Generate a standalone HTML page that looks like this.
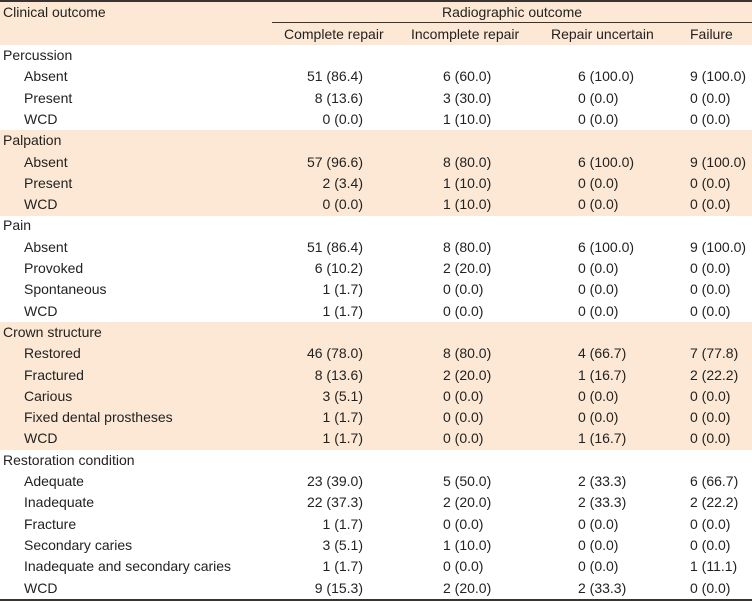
<!DOCTYPE html>
<html><head><style>
body{margin:0;width:752px;height:602px;background:#fff;position:relative;overflow:hidden;font-family:"Liberation Sans",sans-serif;font-size:14px;color:#222}
.b{position:absolute;left:0;width:752px;background:#fce8d4}
.t{position:absolute;white-space:pre;line-height:21px}
.r{text-align:right}
.l{position:absolute;background:#3a3330}
</style></head><body>
<div class="b" style="top:0;height:45px"></div>
<div class="b" style="top:130px;height:86px"></div>
<div class="b" style="top:322px;height:128px"></div>
<div class="l" style="top:0;left:0;width:752px;height:2px"></div>
<div class="l" style="top:22px;left:272px;width:480px;height:1px"></div>
<div class="l" style="top:599px;left:0;width:752px;height:2px"></div>
<div class="t" style="left:3px;top:2px">Clinical outcome</div>
<div class="t" style="left:272px;width:480px;text-align:center;top:2px">Radiographic outcome</div>
<div class="t" style="left:284px;top:24px">Complete repair</div>
<div class="t" style="left:411px;top:24px">Incomplete repair</div>
<div class="t" style="left:551px;top:24px">Repair uncertain</div>
<div class="t" style="left:690px;top:24px">Failure</div>
<div id="rows"></div>
<script>
var d=[["Percussion"],["Absent","51 (86.4)","6 (60.0)","6 (100.0)","9 (100.0)"],["Present","8 (13.6)","3 (30.0)","0 (0.0)","0 (0.0)"],["WCD","0 (0.0)","1 (10.0)","0 (0.0)","0 (0.0)"],
["Palpation"],["Absent","57 (96.6)","8 (80.0)","6 (100.0)","9 (100.0)"],["Present","2 (3.4)","1 (10.0)","0 (0.0)","0 (0.0)"],["WCD","0 (0.0)","1 (10.0)","0 (0.0)","0 (0.0)"],
["Pain"],["Absent","51 (86.4)","8 (80.0)","6 (100.0)","9 (100.0)"],["Provoked","6 (10.2)","2 (20.0)","0 (0.0)","0 (0.0)"],["Spontaneous","1 (1.7)","0 (0.0)","0 (0.0)","0 (0.0)"],["WCD","1 (1.7)","0 (0.0)","0 (0.0)","0 (0.0)"],
["Crown structure"],["Restored","46 (78.0)","8 (80.0)","4 (66.7)","7 (77.8)"],["Fractured","8 (13.6)","2 (20.0)","1 (16.7)","2 (22.2)"],["Carious","3 (5.1)","0 (0.0)","0 (0.0)","0 (0.0)"],["Fixed dental prostheses","1 (1.7)","0 (0.0)","0 (0.0)","0 (0.0)"],["WCD","1 (1.7)","0 (0.0)","1 (16.7)","0 (0.0)"],
["Restoration condition"],["Adequate","23 (39.0)","5 (50.0)","2 (33.3)","6 (66.7)"],["Inadequate","22 (37.3)","2 (20.0)","2 (33.3)","2 (22.2)"],["Fracture","1 (1.7)","0 (0.0)","0 (0.0)","0 (0.0)"],["Secondary caries","3 (5.1)","1 (10.0)","0 (0.0)","0 (0.0)"],["Inadequate and secondary caries","1 (1.7)","0 (0.0)","0 (0.0)","1 (11.1)"],["WCD","9 (15.3)","2 (20.0)","2 (33.3)","0 (0.0)"]];
var h="";
d.forEach(function(r,i){var y=(45+i*21.3).toFixed(1);
if(r.length==1){h+='<div class="t" style="left:3px;top:'+y+'px">'+r[0]+'</div>';return;}
h+='<div class="t" style="left:24px;top:'+y+'px">'+r[0]+'</div>';
h+='<div class="t r" style="left:263px;width:100px;top:'+y+'px">'+r[1]+'</div>';
h+='<div class="t" style="left:443px;top:'+y+'px">'+r[2]+'</div>';
h+='<div class="t" style="left:578px;top:'+y+'px">'+r[3]+'</div>';
h+='<div class="t" style="left:690px;top:'+y+'px">'+r[4]+'</div>';});
document.getElementById("rows").innerHTML=h;
</script>
</body></html>
